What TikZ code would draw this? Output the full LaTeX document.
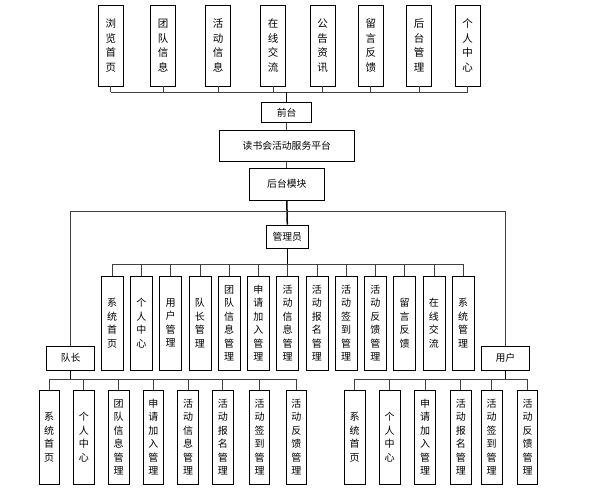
\documentclass[tikz,border=0pt]{standalone}
\usepackage{fontspec}
\setmainfont{Noto Sans CJK SC}
\begin{document}
\begin{tikzpicture}[x=1pt,y=-1pt,
  box/.style={draw=black, line width=0.9pt, fill=white, inner sep=0pt, align=center},
  hbox/.style={box, font=\fontsize{9.8}{12}\selectfont},
  topbox/.style={box, minimum width=25pt, minimum height=81pt, font=\fontsize{10.5}{14.5}\selectfont},
  midbox/.style={box, minimum width=22pt, minimum height=94pt, font=\fontsize{10}{13.5}\selectfont},
  lowbox/.style={box, minimum width=20.5pt, minimum height=94pt, font=\fontsize{10}{13.5}\selectfont},
  wire/.style={draw=black!75, line width=0.8pt},
  trunk/.style={draw=black, line width=1.5pt}]
\useasboundingbox (0,0) rectangle (599,490);

% top row
\foreach \t [count=\i] in {{浏\\览\\首\\页},{团\\队\\信\\息},{活\\动\\信\\息},{在\\线\\交\\流},{公\\告\\资\\讯},{留\\言\\反\\馈},{后\\台\\管\\理},{个\\人\\中\\心}}{
  \pgfmathsetmacro{\cx}{{110.8,163.2,218.2,273.2,322.5,370.8,419.2,467.5}[\i-1]}
  \node[topbox] (t\i) at (\cx,45.5) {\t};
}
\coordinate (tb) at (286.7,92);
\node[hbox, minimum width=50pt, minimum height=20pt] (qt) at (286.7,112.7) {前台};
\node[hbox, minimum width=135pt, minimum height=31.5pt] (plat) at (286.8,145.8) {读书会活动服务平台};
\node[hbox, minimum width=75pt, minimum height=31.5pt] (ht) at (286.8,184.2) {后台模块};
\node[hbox, minimum width=42.7pt, minimum height=23.3pt] (gly) at (287.3,236.7) {管理员};
\coordinate (hl) at (287.3,211.7);

\foreach \i in {1,...,8}{ \draw[wire] (t\i.south) -- (t\i.south |- tb); }
\draw[wire] (t1.south |- tb) -- (t8.south |- tb);
\draw[trunk] (tb) -- (qt.north);
\draw[wire] (qt.south) -- (qt.south |- plat.north);
\draw[wire] (plat.south) -- (plat.south |- ht.north);

% admin row
\foreach \t [count=\i] in {{系\\统\\首\\页},{个\\人\\中\\心},{用\\户\\管\\理},{队\\长\\管\\理},{团\\队\\信\\息\\管\\理},{申\\请\\加\\入\\管\\理},{活\\动\\信\\息\\管\\理},{活\\动\\报\\名\\管\\理},{活\\动\\签\\到\\管\\理},{活\\动\\反\\馈\\管\\理},{留\\言\\反\\馈},{在\\线\\交\\流},{系\\统\\管\\理}}{
  \pgfmathsetmacro{\cx}{112.2+29.25*(\i-1)}
  \node[midbox] (a\i) at (\cx,323) {\t};
}
\coordinate (ab) at (287.3,264);
\foreach \i in {1,...,13}{ \draw[wire] (a\i.north) -- (a\i.north |- ab); }
\draw[wire] (a1.north |- ab) -- (a13.north |- ab);
\draw[trunk] (ht.south) -- (gly.north);
\draw[trunk] (gly.south) -- (ab);

% captain and user
\node[hbox, minimum width=47.6pt, minimum height=24pt] (dz) at (70.7,358) {队长};
\node[hbox, minimum width=47.6pt, minimum height=24pt] (yh) at (505.3,358) {用户};
\draw[wire] (dz.north) -- (dz.north |- hl) -- (yh.north |- hl) -- (yh.north);

% captain row
\foreach \t [count=\i] in {{系\\统\\首\\页},{个\\人\\中\\心},{团\\队\\信\\息\\管\\理},{申\\请\\加\\入\\管\\理},{活\\动\\信\\息\\管\\理},{活\\动\\报\\名\\管\\理},{活\\动\\签\\到\\管\\理},{活\\动\\反\\馈\\管\\理}}{
  \pgfmathsetmacro{\cx}{{49.2,83.8,118.7,153.3,188,222.8,259.5,296.3}[\i-1]}
  \node[lowbox] (c\i) at (\cx,437) {\t};
}
\coordinate (cb) at (70.7,379);
\foreach \i in {1,...,8}{ \draw[wire] (c\i.north) -- (c\i.north |- cb); }
\draw[wire] (c1.north |- cb) -- (c8.north |- cb);
\draw[trunk] (dz.south) -- (cb);

% user row
\foreach \t [count=\i] in {{系\\统\\首\\页},{个\\人\\中\\心},{申\\请\\加\\入\\管\\理},{活\\动\\报\\名\\管\\理},{活\\动\\签\\到\\管\\理},{活\\动\\反\\馈\\管\\理}}{
  \pgfmathsetmacro{\cx}{{354.7,389.7,425,460.8,491.7,527.5}[\i-1]}
  \node[lowbox] (u\i) at (\cx,437) {\t};
}
\coordinate (ub) at (505.3,379);
\foreach \i in {1,...,6}{ \draw[wire] (u\i.north) -- (u\i.north |- ub); }
\draw[wire] (u1.north |- ub) -- (u6.north |- ub);
\draw[trunk] (yh.south) -- (ub);
\end{tikzpicture}
\end{document}
